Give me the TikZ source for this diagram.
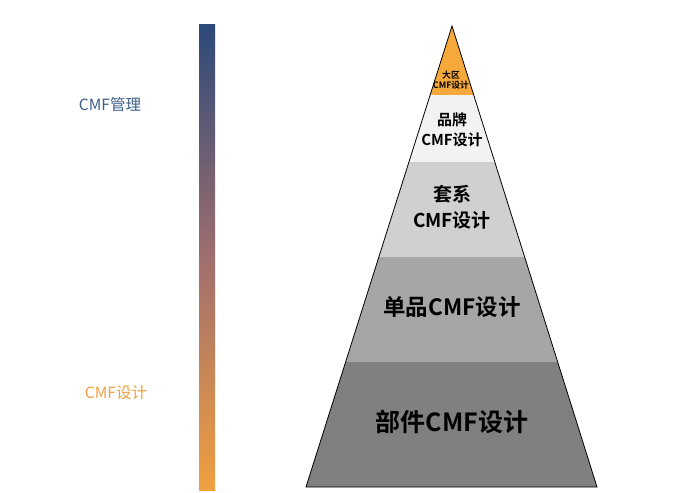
\documentclass[tikz,border=0pt]{standalone}
\usepackage{fontspec}
\newfontfamily\cjk{Noto Sans CJK SC}
\newfontfamily\cjkb{Noto Sans CJK SC Bold}
\definecolor{orng}{HTML}{F4A93A}
\definecolor{lwhite}{HTML}{F2F2F2}
\definecolor{lgray}{HTML}{D0D0D0}
\definecolor{mgray}{HTML}{A6A6A6}
\definecolor{dgray}{HTML}{808080}
\definecolor{navy}{HTML}{2C4A7A}
\definecolor{lblue}{HTML}{3E5F8A}
\definecolor{lorng}{HTML}{F0A040}
\begin{document}
\begin{tikzpicture}[x=1pt,y=-1pt,
  lvl/.style={font=\cjkb, text=black, align=center, inner sep=0pt},
  side/.style={font=\cjk, inner sep=0pt}]
\useasboundingbox (0,0) rectangle (684,492);
\fill[white] (0,0) rectangle (684,492);
% gradient bar
\shade[top color=navy, bottom color=lorng, middle color={rgb,255:red,160;green,110;blue,110}] (199,25) rectangle (215,490);
\node[side, text=lblue, font=\cjk\fontsize{15.5}{18}\selectfont] (mgmt) at (110,105) {CMF管理};
\node[side, text=lorng, font=\cjk\fontsize{15.5}{18}\selectfont] (des) at (116,393) {CMF设计};
% pyramid
\begin{scope}
\clip (452,26) -- (597,487) -- (306,487) -- cycle;
\fill[orng] (300,20) rectangle (610,95);
\fill[lwhite] (300,95) rectangle (610,162);
\fill[lgray] (300,162) rectangle (610,257);
\fill[mgray] (300,257) rectangle (610,362);
\fill[dgray] (300,362) rectangle (610,490);
\end{scope}
\draw[black, line width=0.8pt] (452,26) -- (597,487) -- (306,487) -- cycle;
\node[lvl, font=\cjkb\fontsize{8.8}{10.5}\selectfont] (l1) at (451,80) {大区\\CMF设计};
\node[lvl, font=\cjkb\fontsize{15}{20}\selectfont] (l2) at (452,130) {品牌\\CMF设计};
\node[lvl, font=\cjkb\fontsize{19}{26}\selectfont] (l3) at (452,207) {套系\\CMF设计};
\node[lvl, font=\cjkb\fontsize{22.5}{26}\selectfont] (l4) at (452,307) {单品CMF设计};
\node[lvl, font=\cjkb\fontsize{25}{30}\selectfont] (l5) at (452,422) {部件CMF设计};
\end{tikzpicture}
\end{document}
